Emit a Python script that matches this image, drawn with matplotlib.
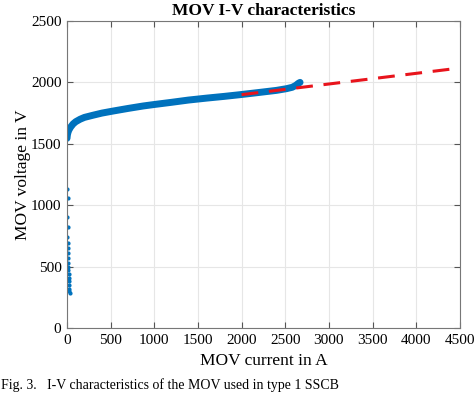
# MOV I-V characteristic curve with linear extrapolation
import matplotlib.pyplot as plt

# measured I-V curve (current in A, voltage in V)
mov_current = [0, 2, 5, 10, 20, 40, 70, 100, 150, 200, 300, 400, 530, 700, 874,
               1000, 1200, 1390, 1600, 1800, 1982, 2200, 2400, 2516, 2580, 2620,
               2650, 2670]
mov_voltage = [1545, 1560, 1575, 1590, 1610, 1635, 1662, 1680, 1700, 1715, 1733,
               1750, 1767, 1788, 1808, 1820, 1838, 1856, 1872, 1886, 1900, 1918,
               1935, 1949, 1960, 1975, 1992, 2000]

# low-current points before the knee
low_current = [5, 8, 3, 6, 4, 7, 9, 10, 12, 14, 15, 16, 18, 20, 22, 24, 26, 28, 30]
low_voltage = [1130, 1060, 905, 824, 745, 690, 650, 607, 567, 526, 498, 470, 440,
               410, 380, 350, 320, 300, 287]

# linear fit used for extrapolation
fit_current = [2000, 4500]
fit_voltage = [1900, 2117]

xticks = list(range(0, 4501, 500))
yticks = list(range(0, 2501, 500))

plt.rcParams['font.family'] = ['Liberation Serif', 'DejaVu Serif']

fig = plt.figure(figsize=(4.74, 3.93), dpi=100)
ax = fig.add_axes([0.1414, 0.1654, 0.8286, 0.7812])

blue = '#0072BD'
ax.plot(low_current, low_voltage, '.', color=blue, markersize=4)
ax.plot(mov_current, mov_voltage, '-', color=blue, linewidth=5, solid_capstyle='round')
ax.plot(fit_current, fit_voltage, '--', color='#E8141C', linewidth=2.2, dashes=(5.5, 3.5))

ax.set_xlim(0, 4500)
ax.set_ylim(0, 2500)
ax.set_xticks(xticks)
ax.set_yticks(yticks)
ax.grid(True, color='#e6e6e6', linewidth=0.8)
ax.set_axisbelow(True)
ax.tick_params(direction='in', top=True, right=True, labelsize=11, length=4,
               color='#555555', pad=4)
for s in ax.spines.values():
    s.set_color('#777777')

ax.set_title('MOV I-V characteristics', fontsize=12.5, fontweight='bold', pad=4)
ax.set_xlabel('MOV current in A', fontsize=12.5, labelpad=5)
ax.set_ylabel('MOV voltage in V', fontsize=12.5, labelpad=0)

fig.text(0.003, 0.003, 'Fig. 3.   I-V characteristics of the MOV used in type 1 SSCB',
         fontsize=10, va='bottom', ha='left')

fig.savefig('out.png', dpi=100)
